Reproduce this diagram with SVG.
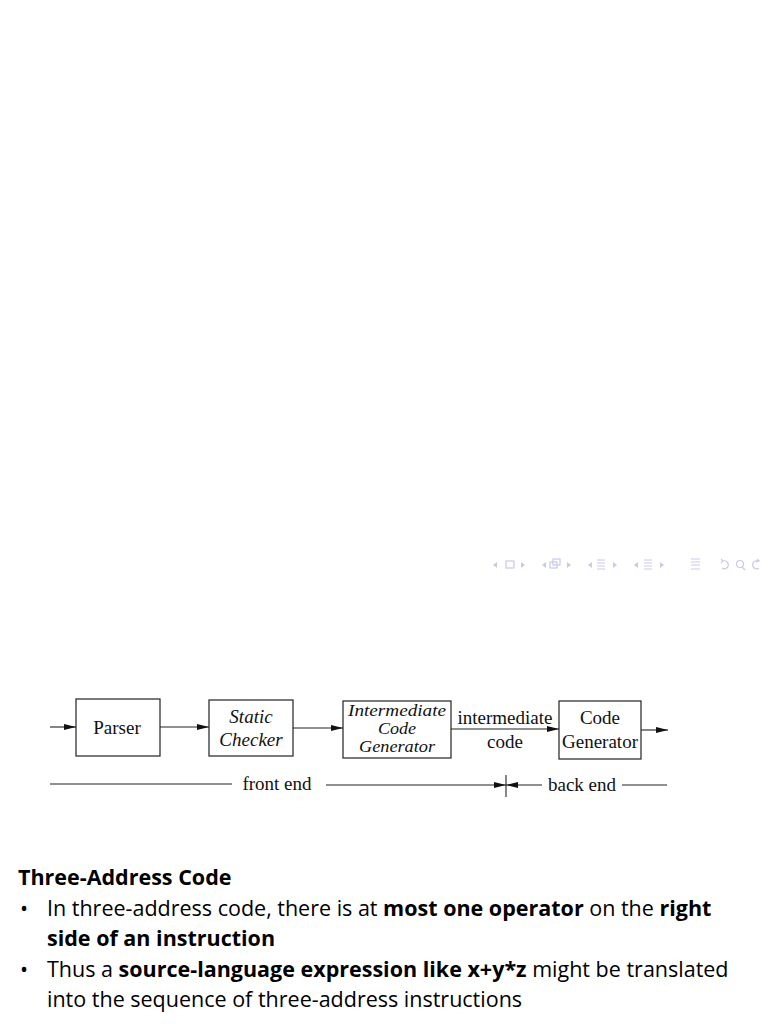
<svg xmlns="http://www.w3.org/2000/svg" width="768" height="1024" viewBox="0 0 768 1024">
<defs>
<marker id="ah" markerWidth="12" markerHeight="8" refX="12" refY="4" orient="auto" markerUnits="userSpaceOnUse">
<path d="M0,1 L12,4 L0,7 Z" fill="#111"/>
</marker>
<style>
.box{fill:#fff;stroke:#222;stroke-width:1.2}
.ln{stroke:#222;stroke-width:1.1;fill:none}
.t{font-family:"Liberation Serif","DejaVu Serif",serif;font-size:19px;fill:#111;text-anchor:middle}
.s{font-size:16px}
.i{font-style:italic}
.nav{fill:none;stroke:#c9c9ec;stroke-width:1.2}
.navf{fill:#c9c9ec}
.b{font-family:"Open Sans","Liberation Sans",sans-serif;font-size:21.5px;fill:#000}
.bold{font-weight:bold}
</style>
</defs>
<rect width="768" height="1024" fill="#fff"/>

<g id="nav">
<path class="navf" d="M497,562 L493,565 L497,568 Z"/>
<rect class="nav" x="506" y="561" width="8" height="7"/>
<path class="navf" d="M521,562 L525,565 L521,568 Z"/>
<path class="navf" d="M546,562 L542,565 L546,568 Z"/>
<rect class="nav" x="550" y="562" width="7" height="6"/><rect class="nav" x="553" y="559" width="7" height="6"/>
<path class="navf" d="M567,562 L571,565 L567,568 Z"/>
<path class="navf" d="M592,562 L588,565 L592,568 Z"/>
<path class="nav" d="M597,560 h8 M597,563 h8 M597,566 h8 M597,569 h8"/>
<path class="navf" d="M613,562 L617,565 L613,568 Z"/>
<path class="navf" d="M638,562 L634,565 L638,568 Z"/>
<path class="nav" d="M644,560 h8 M644,563 h8 M644,566 h8 M644,569 h8"/>
<path class="navf" d="M660,562 L664,565 L660,568 Z"/>
<path class="nav" d="M691,559 h9 M691,562 h9 M691,565 h9 M691,569 h9"/>
<path class="nav" d="M722,568 A4,4 0 1 0 723,561 M721,559 l2,2 l-2,2"/>
<circle class="nav" cx="740" cy="564" r="3.5"/><path class="nav" d="M742,567 l3,3"/>
<path class="nav" d="M758,561 A4,4 0 1 0 759,568 M757,559 l2,2 l-3,1"/>
</g>

<g id="connectors">
<line class="ln" x1="50" y1="727" x2="76" y2="727" marker-end="url(#ah)"/>
<line class="ln" x1="160" y1="727" x2="209" y2="727" marker-end="url(#ah)"/>
<line class="ln" x1="293" y1="728" x2="343" y2="728" marker-end="url(#ah)"/>
<line class="ln" x1="451" y1="729" x2="559" y2="729" marker-end="url(#ah)"/>
<line class="ln" x1="641" y1="730" x2="668" y2="730" marker-end="url(#ah)"/>
<line class="ln" x1="50" y1="784" x2="232" y2="784"/>
<line class="ln" x1="326" y1="785" x2="506" y2="785" marker-end="url(#ah)"/>
<line class="ln" x1="506" y1="775" x2="506" y2="797"/>
<line class="ln" x1="542" y1="785" x2="506" y2="785" marker-end="url(#ah)"/>
<line class="ln" x1="622" y1="785" x2="667" y2="785"/>
</g>

<g id="parser">
<rect class="box" x="76" y="699" width="84" height="57"/>
<text class="t" x="117" y="734">Parser</text>
</g>
<g id="static-checker">
<rect class="box" x="209" y="700" width="84" height="56"/>
<text class="t i" x="251" y="723">Static</text>
<text class="t i" x="251" y="746">Checker</text>
</g>
<g id="icg">
<rect class="box" x="343" y="701" width="108" height="57"/>
<text class="t s i" x="397" y="716" textLength="98" lengthAdjust="spacingAndGlyphs">Intermediate</text>
<text class="t s i" x="397" y="734" textLength="38" lengthAdjust="spacingAndGlyphs">Code</text>
<text class="t s i" x="397" y="752" textLength="76" lengthAdjust="spacingAndGlyphs">Generator</text>
</g>
<g id="edge-label">
<text class="t" x="505" y="724">intermediate</text>
<text class="t" x="505" y="748">code</text>
</g>
<g id="code-generator">
<rect class="box" x="559" y="701" width="82" height="58"/>
<text class="t" x="600" y="724">Code</text>
<text class="t" x="600" y="748">Generator</text>
</g>
<g id="phase-labels">
<text class="t" x="277" y="790">front end</text>
<text class="t" x="582" y="791">back end</text>
</g>

<g id="body">
<text class="b bold" x="18" y="885">Three-Address Code</text>
<text class="b" x="20" y="916">•</text>
<text class="b" x="47" y="916">In three-address code, there is at <tspan class="bold">most one operator</tspan> on the <tspan class="bold">right</tspan></text>
<text class="b bold" x="47" y="946">side of an instruction</text>
<text class="b" x="20" y="977">•</text>
<text class="b" x="47" y="977">Thus a <tspan class="bold">source-language expression like x+y*z</tspan> might be translated</text>
<text class="b" x="47" y="1007">into the sequence of three-address instructions</text>
</g>
</svg>
